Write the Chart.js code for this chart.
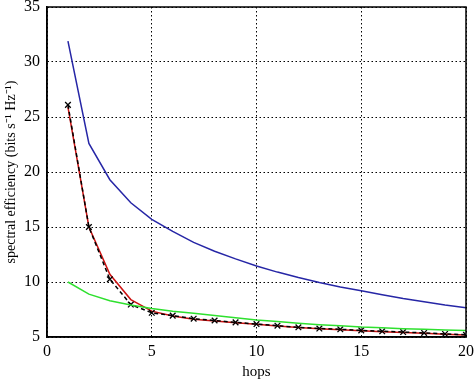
<!DOCTYPE html>
<html><head><meta charset="utf-8">
<script src="https://cdn.jsdelivr.net/npm/chart.js@4"></script>
<style>html,body{margin:0;padding:0;background:#fff}#w{width:474px;height:381px}</style>
</head><body><div id="w"><canvas id="c"></canvas></div>
<script>
const hops = [1,2,3,4,5,6,7,8,9,10,11,12,13,14,15,16,17,18,19,20];
const blue = [31.9,22.6,19.3,17.2,15.7,14.6,13.6,12.8,12.1,11.45,10.9,10.4,9.95,9.55,9.2,8.85,8.5,8.2,7.9,7.65];
const red = [25.9,15.0,10.7,8.4,7.35,6.9,6.62,6.46,6.3,6.15,6.0,5.86,5.74,5.66,5.56,5.48,5.42,5.33,5.25,5.18];
const green = [10.0,8.9,8.3,7.9,7.6,7.35,7.15,6.95,6.75,6.55,6.4,6.25,6.12,6.02,5.9,5.84,5.76,5.7,5.64,5.58];
const black = [26.1,15.0,10.25,7.95,7.2,6.94,6.66,6.5,6.33,6.18,6.03,5.88,5.77,5.7,5.6,5.52,5.45,5.37,5.28,5.2];
const xTicks = [0,5,10,15,20];
const yTicks = [5,10,15,20,25,30,35];
const pts = a => hops.map((h,i)=>({x:h,y:a[i]}));
const frame = {id:'frame',afterDraw(ch){const a=ch.chartArea,c=ch.ctx;c.save();c.strokeStyle='#000';c.lineWidth=1.5;c.strokeRect(a.left,a.top,a.right-a.left,a.bottom-a.top);c.restore();}};
new Chart(document.getElementById('c'),{
 type:'line',
 data:{datasets:[
  {data:pts(blue),borderColor:'#2626a6',borderWidth:1.5,pointRadius:0,tension:0},
  {data:pts(green),borderColor:'#2ee02e',borderWidth:1.5,pointRadius:0,tension:0},
  {data:pts(black),borderColor:'#000',borderWidth:1.5,borderDash:[4,3],pointStyle:'crossRot',pointRadius:4,pointBorderWidth:1.3,pointBorderColor:'#000',tension:0},
  {data:pts(red),borderColor:'#cc1111',borderWidth:1.5,pointRadius:0,tension:0}
 ]},
 plugins:[frame],
 options:{responsive:true,maintainAspectRatio:false,animation:false,
  layout:{padding:{top:7,right:8,left:0,bottom:0}},
  plugins:{legend:{display:false},tooltip:{enabled:false}},
  scales:{
   x:{type:'linear',min:0,max:20,
    afterBuildTicks(s){s.ticks=xTicks.map(v=>({value:v}));},
    afterFit(s){s.height=44;s.paddingRight=0;s.paddingLeft=0;},
    grid:{color:'#000',lineWidth:1,drawTicks:false},
    border:{display:true,color:'#000',width:1.5,dash:[1.5,2.5]},
    ticks:{color:'#000',padding:5,font:{family:'Liberation Serif',size:16}},
    title:{display:true,text:'hops',color:'#000',padding:{top:0,bottom:0},font:{family:'Liberation Serif',size:15}}},
   y:{min:5,max:35,
    afterBuildTicks(s){s.ticks=yTicks.map(v=>({value:v}));},
    afterFit(s){s.width=47;s.paddingTop=0;s.paddingBottom=0;},
    grid:{color:'#000',lineWidth:1,drawTicks:false},
    border:{display:true,color:'#000',width:1.5,dash:[1.5,2.5]},
    ticks:{color:'#000',padding:7,font:{family:'Liberation Serif',size:16}},
    title:{display:true,text:'spectral efficiency (bits s⁻¹ Hz⁻¹)',color:'#000',padding:{top:3,bottom:0},font:{family:'Liberation Serif',size:14}}}
  }}
});
</script></body></html>
